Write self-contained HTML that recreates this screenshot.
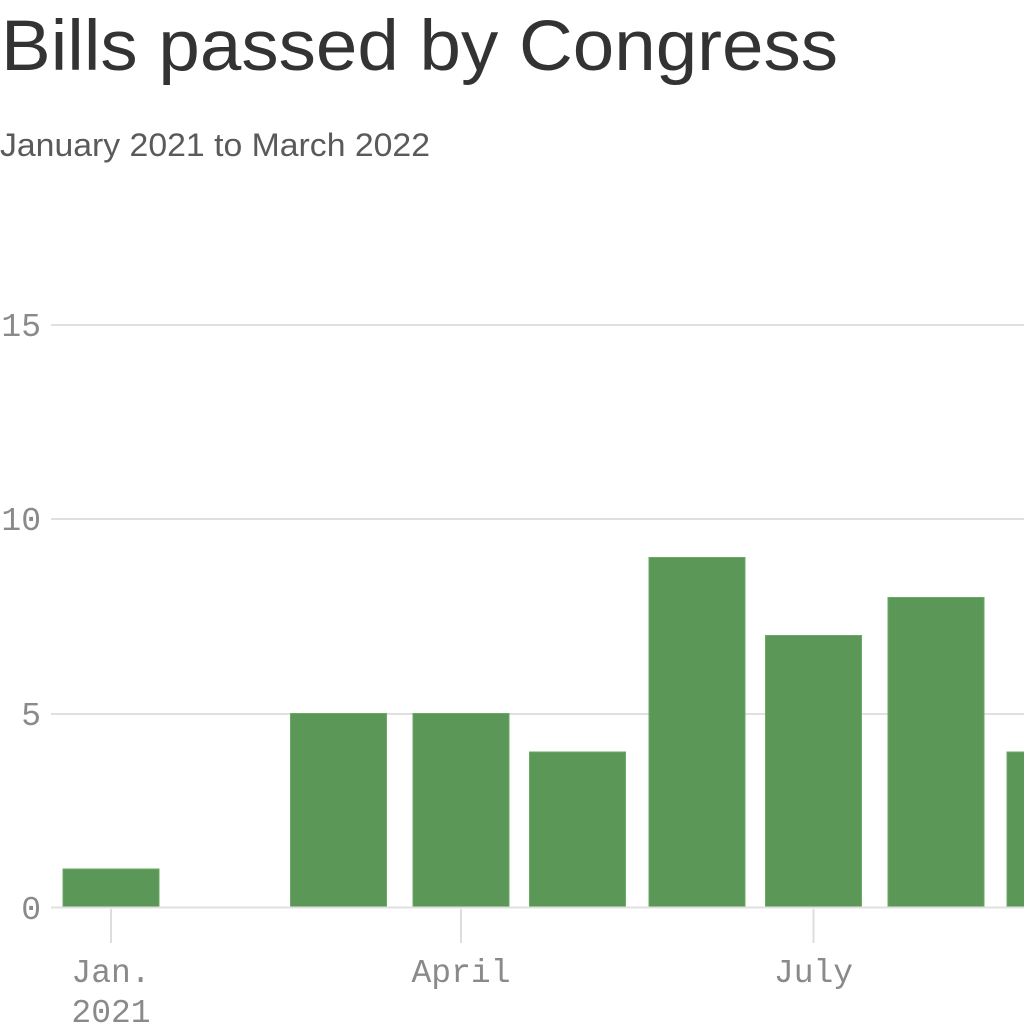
<!DOCTYPE html>
<html>
<head>
<meta charset="utf-8">
<style>
  html, body { margin: 0; padding: 0; background: #fff; }
  body { width: 1024px; height: 1024px; overflow: hidden; position: relative; }
  svg { position: absolute; left: 0; top: 0; }
</style>
</head>
<body>
<svg width="1024" height="1024" viewBox="0 0 1024 1024" xmlns="http://www.w3.org/2000/svg">
  <!-- Title -->
  <text x="1" y="70" font-family="Liberation Sans, sans-serif" font-size="71" fill="#333333" textLength="837" lengthAdjust="spacingAndGlyphs">Bills passed by Congress</text>
  <text x="0" y="156" font-family="Liberation Sans, sans-serif" font-size="32" fill="#5a5a5a" textLength="430" lengthAdjust="spacingAndGlyphs">January 2021 to March 2022</text>

  <!-- gridlines -->
  <g stroke="#e0e0e0" stroke-width="2">
    <line x1="51" y1="325" x2="1024" y2="325"/>
    <line x1="51" y1="519" x2="1024" y2="519"/>
    <line x1="51" y1="714" x2="1024" y2="714"/>
  </g>

  <!-- y labels -->
  <g font-family="Liberation Mono, monospace" font-size="33" fill="#8a8a8a" text-anchor="end">
    <text x="41" y="336">15</text>
    <text x="41" y="530">10</text>
    <text x="41" y="725">5</text>
    <text x="41" y="919">0</text>
  </g>

  <!-- bars -->
  <g fill="#5b9857" stroke="#6aa866" stroke-width="1">
    <rect x="63" y="869" width="96" height="38"/>
    <rect x="290.5" y="713.5" width="96" height="193.5"/>
    <rect x="413" y="713.5" width="96" height="193.5"/>
    <rect x="529.5" y="752" width="96" height="155"/>
    <rect x="649" y="557.5" width="96" height="349.5"/>
    <rect x="765.5" y="635.5" width="96" height="271.5"/>
    <rect x="888" y="597.5" width="96" height="309.5"/>
    <rect x="1007" y="752" width="96" height="155"/>
  </g>

  <!-- baseline -->
  <line x1="51" y1="907.5" x2="1024" y2="907.5" stroke="#e0e0e0" stroke-width="2"/>

  <!-- ticks -->
  <g stroke="#dddddd" stroke-width="2">
    <line x1="111" y1="909" x2="111" y2="943"/>
    <line x1="461" y1="909" x2="461" y2="943"/>
    <line x1="813.5" y1="909" x2="813.5" y2="943"/>
  </g>

  <!-- x labels -->
  <g font-family="Liberation Mono, monospace" font-size="33" fill="#8a8a8a" text-anchor="middle">
    <text x="111" y="982">Jan.</text>
    <text x="111" y="1022">2021</text>
    <text x="461" y="982">April</text>
    <text x="813.5" y="982">July</text>
  </g>
</svg>
</body>
</html>
